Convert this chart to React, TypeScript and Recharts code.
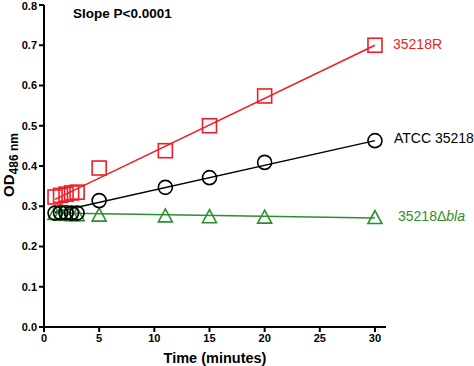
import { ReferenceLine, Scatter, ScatterChart, XAxis, YAxis } from "recharts";

const times = [1, 1.5, 2, 2.5, 3, 5, 11, 15, 20, 30];
const odR = [0.323, 0.327, 0.33, 0.333, 0.335, 0.395, 0.438, 0.5, 0.574, 0.7];
const odAtcc = [0.283, 0.284, 0.284, 0.283, 0.283, 0.314, 0.347, 0.371, 0.409, 0.463];
const odBla = [0.282, 0.281, 0.28, 0.279, 0.279, 0.278, 0.276, 0.274, 0.273, 0.272];

// regression lines (start / end)
const fitX = [1, 30];
const fitR = [0.317, 0.7];
const fitAtcc = [0.285, 0.463];
const fitBla = [0.283, 0.271];

const xTicks = [0, 5, 10, 15, 20, 25, 30];
const yTicks = [0, 0.1, 0.2, 0.3, 0.4, 0.5, 0.6, 0.7, 0.8];

const RED = "#ec1f26";
const GREEN = "#2a8f2c";
const FONT = "'Liberation Sans', Arial, sans-serif";

const pts = (ys: number[]) => times.map((t, i) => ({ x: t, y: ys[i] }));
const seg = (ys: number[]) => fitX.map((x, i) => ({ x, y: ys[i] }));

const tickStyle = { fontSize: 11, fontWeight: 700, fill: "#000", fontFamily: FONT };

function Square(p: any) {
  return <rect x={p.cx - 7} y={p.cy - 7} width={14} height={14} fill="none" stroke={RED} strokeWidth={1.6} />;
}
function Ring(p: any) {
  return <circle cx={p.cx} cy={p.cy} r={7} fill="none" stroke="#000" strokeWidth={1.6} />;
}
function Tri(p: any) {
  const { cx, cy } = p;
  return (
    <polygon
      points={`${cx},${cy - 7} ${cx + 7},${cy + 6} ${cx - 7},${cy + 6}`}
      fill="none"
      stroke={GREEN}
      strokeWidth={1.6}
    />
  );
}

export default function App() {
  return (
    <div style={{ position: "absolute", left: 0, top: 0, width: 474, height: 366, background: "#fff" }}>
      <ScatterChart width={474} height={366} margin={{ top: 5, right: 88, bottom: 0, left: 0 }}>
        <XAxis
          type="number"
          dataKey="x"
          domain={[0, 31]}
          ticks={xTicks}
          tick={tickStyle}
          tickSize={5}
          tickLine={{ stroke: "#000", strokeWidth: 2 }}
          axisLine={{ stroke: "#000", strokeWidth: 2 }}
          height={39}
        />
        <YAxis
          type="number"
          dataKey="y"
          domain={[0, 0.8]}
          ticks={yTicks}
          tickFormatter={(v: number) => v.toFixed(1)}
          tick={tickStyle}
          tickSize={5}
          tickLine={{ stroke: "#000", strokeWidth: 2 }}
          axisLine={{ stroke: "#000", strokeWidth: 2 }}
          width={44}
        />
        <ReferenceLine segment={seg(fitBla)} stroke={GREEN} strokeWidth={1.5} ifOverflow="visible" />
        <ReferenceLine segment={seg(fitAtcc)} stroke="#000" strokeWidth={1.5} ifOverflow="visible" />
        <ReferenceLine segment={seg(fitR)} stroke={RED} strokeWidth={1.5} ifOverflow="visible" />
        <Scatter data={pts(odBla)} shape={Tri} isAnimationActive={false} />
        <Scatter data={pts(odAtcc)} shape={Ring} isAnimationActive={false} />
        <Scatter data={pts(odR)} shape={Square} isAnimationActive={false} />
      </ScatterChart>
      <svg
        width={474}
        height={366}
        style={{ position: "absolute", left: 0, top: 0, pointerEvents: "none" }}
        fontFamily={FONT}
      >
        <text x={73} y={18} fontSize={13.5} fontWeight={700}>
          Slope P&lt;0.0001
        </text>
        <text x={393} y={49} fontSize={14} fill={RED}>
          35218R
        </text>
        <text x={394} y={143} fontSize={14} fill="#000">
          ATCC 35218
        </text>
        <text x={398} y={221} fontSize={14} fill={GREEN}>
          35218Δ<tspan fontStyle="italic">bla</tspan>
        </text>
        <text x={215} y={363} fontSize={14.5} fontWeight={700} textAnchor="middle">
          Time (minutes)
        </text>
        <g transform="translate(14,165) rotate(-90)">
          <text x={0} y={0} textAnchor="middle" fontWeight={700}>
            <tspan fontSize={15}>OD</tspan>
            <tspan fontSize={12} dy={4}>
              486 nm
            </tspan>
          </text>
        </g>
      </svg>
    </div>
  );
}
